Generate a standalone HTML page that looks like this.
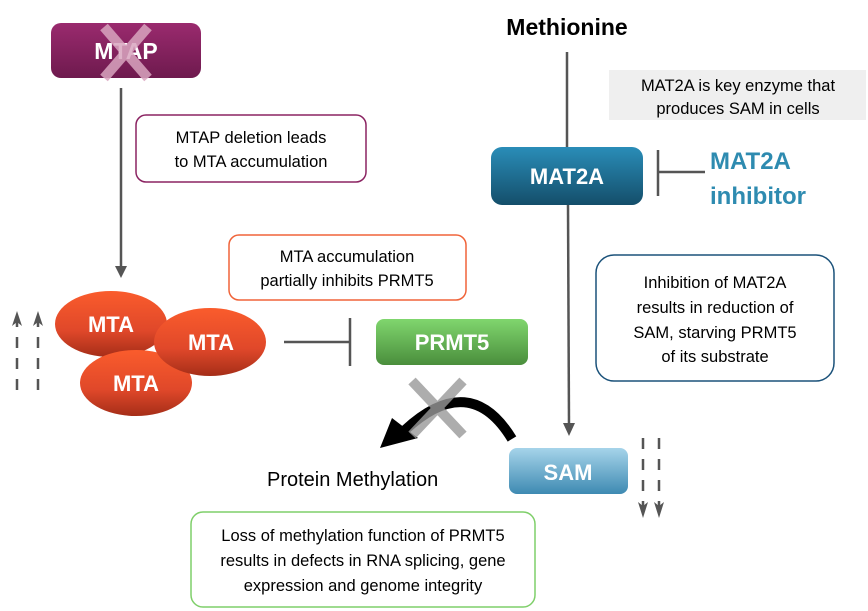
<!DOCTYPE html>
<html><head><meta charset="utf-8"><style>
body{margin:0;background:#fff}
svg{display:block;font-family:"Liberation Sans",sans-serif}
</style></head><body>
<svg width="868" height="611" viewBox="0 0 868 611" xmlns="http://www.w3.org/2000/svg">
<defs>
<linearGradient id="gP" x1="0" y1="0" x2="0" y2="1"><stop offset="0" stop-color="#9A2A6E"/><stop offset="1" stop-color="#6E1A4E"/></linearGradient>
<linearGradient id="gO" x1="0" y1="0" x2="0" y2="1"><stop offset="0" stop-color="#FA5C2C"/><stop offset="0.6" stop-color="#E0482A"/><stop offset="1" stop-color="#A52E18"/></linearGradient>
<linearGradient id="gG" x1="0" y1="0" x2="0" y2="1"><stop offset="0" stop-color="#80D66E"/><stop offset="1" stop-color="#4A8E3C"/></linearGradient>
<linearGradient id="gT" x1="0" y1="0" x2="0" y2="1"><stop offset="0" stop-color="#2A8DB8"/><stop offset="1" stop-color="#144E6A"/></linearGradient>
<linearGradient id="gS" x1="0" y1="0" x2="0" y2="1"><stop offset="0" stop-color="#A6D4EA"/><stop offset="1" stop-color="#3E8AB2"/></linearGradient>
</defs>
<!-- MTAP -->
<rect x="51" y="23" width="150" height="55" rx="10" fill="url(#gP)"/>
<text x="126" y="59" font-size="23" font-weight="bold" fill="#fff" text-anchor="middle">MTAP</text>
<g stroke="#D9A5BF" stroke-width="10" opacity="0.85"><line x1="104" y1="27" x2="148" y2="78"/><line x1="148" y1="27" x2="104" y2="78"/></g>
<line x1="121" y1="88" x2="121" y2="268" stroke="#555" stroke-width="2.5"/>
<polygon points="115,266 127,266 121,278" fill="#555"/>
<rect x="136" y="115" width="230" height="67" rx="10" fill="#fff" stroke="#8B2462" stroke-width="1.5"/>
<text x="251" y="143" font-size="16.5" text-anchor="middle">MTAP deletion leads</text>
<text x="251" y="167" font-size="16.5" text-anchor="middle">to MTA accumulation</text>
<rect x="229" y="235" width="237" height="65" rx="10" fill="#fff" stroke="#F0643A" stroke-width="1.5"/>
<text x="347" y="262" font-size="16.5" text-anchor="middle">MTA accumulation</text>
<text x="347" y="286" font-size="16.5" text-anchor="middle">partially inhibits PRMT5</text>
<!-- MTA -->
<ellipse cx="111" cy="324" rx="56" ry="33" fill="url(#gO)"/>
<ellipse cx="136" cy="383" rx="56" ry="33" fill="url(#gO)"/>
<ellipse cx="210" cy="342" rx="56" ry="34" fill="url(#gO)"/>
<g font-size="22" font-weight="bold" fill="#fff" text-anchor="middle">
<text x="111" y="332">MTA</text><text x="136" y="391">MTA</text><text x="211" y="350">MTA</text></g>
<g stroke="#555" stroke-width="2.5" stroke-dasharray="11,10"><line x1="17" y1="390" x2="17" y2="318"/><line x1="38" y1="390" x2="38" y2="318"/></g>
<polygon points="12,326 17,311 22,326 17,322" fill="#555"/><polygon points="33,326 38,311 43,326 38,322" fill="#555"/>
<line x1="284" y1="342" x2="350" y2="342" stroke="#555" stroke-width="2.5"/>
<line x1="350" y1="318" x2="350" y2="366" stroke="#555" stroke-width="2.5"/>
<rect x="376" y="319" width="152" height="46" rx="8" fill="url(#gG)"/>
<text x="452" y="350" font-size="22" font-weight="bold" fill="#fff" text-anchor="middle">PRMT5</text>
<!-- arc -->
<path d="M512,439 Q470,370 405,430" fill="none" stroke="#000" stroke-width="10"/>
<polygon points="380,448 392,418 418,438" fill="#000"/>
<g stroke="#999" stroke-width="10" opacity="0.8"><line x1="412" y1="381" x2="463" y2="435"/><line x1="463" y1="381" x2="412" y2="435"/></g>
<text x="267" y="486" font-size="20">Protein Methylation</text>
<rect x="191" y="512" width="344" height="95" rx="12" fill="#fff" stroke="#7FCF6A" stroke-width="1.5"/>
<text x="363" y="541" font-size="16.5" text-anchor="middle">Loss of methylation function of PRMT5</text>
<text x="363" y="566" font-size="16.5" text-anchor="middle">results in defects in RNA splicing, gene</text>
<text x="363" y="591" font-size="16.5" text-anchor="middle">expression and genome integrity</text>
<!-- right -->
<text x="567" y="35" font-size="23" font-weight="bold" text-anchor="middle">Methionine</text>
<line x1="567" y1="52" x2="567" y2="148" stroke="#555" stroke-width="2.5"/>
<line x1="568" y1="205" x2="569" y2="425" stroke="#555" stroke-width="2.5"/>
<polygon points="563,423 575,423 569,436" fill="#555"/>
<rect x="609" y="70" width="257" height="50" fill="#EFEFEF"/>
<text x="738" y="91" font-size="16.5" text-anchor="middle">MAT2A is key enzyme that</text>
<text x="738" y="114" font-size="16.5" text-anchor="middle">produces SAM in cells</text>
<rect x="491" y="147" width="152" height="58" rx="11" fill="url(#gT)"/>
<text x="567" y="184" font-size="22" font-weight="bold" fill="#fff" text-anchor="middle">MAT2A</text>
<line x1="658" y1="150" x2="658" y2="196" stroke="#555" stroke-width="2.5"/>
<line x1="658" y1="172" x2="705" y2="172" stroke="#555" stroke-width="2.5"/>
<text x="710" y="169" font-size="24" font-weight="bold" fill="#2E8BB0">MAT2A</text>
<text x="710" y="204" font-size="24" font-weight="bold" fill="#2E8BB0">inhibitor</text>
<rect x="596" y="255" width="238" height="126" rx="18" fill="#fff" stroke="#1B527A" stroke-width="1.5"/>
<g font-size="16.5" text-anchor="middle"><text x="715" y="288">Inhibition of MAT2A</text><text x="715" y="313">results in reduction of</text><text x="715" y="338">SAM, starving PRMT5</text><text x="715" y="362">of its substrate</text></g>
<rect x="509" y="448" width="119" height="46" rx="8" fill="url(#gS)"/>
<text x="568" y="480" font-size="22" font-weight="bold" fill="#fff" text-anchor="middle">SAM</text>
<g stroke="#555" stroke-width="2.5" stroke-dasharray="11,10"><line x1="643" y1="438" x2="643" y2="508"/><line x1="659" y1="438" x2="659" y2="508"/></g>
<polygon points="638,502 643,518 648,502 643,506" fill="#555"/><polygon points="654,502 659,518 664,502 659,506" fill="#555"/>
</svg>
</body></html>
